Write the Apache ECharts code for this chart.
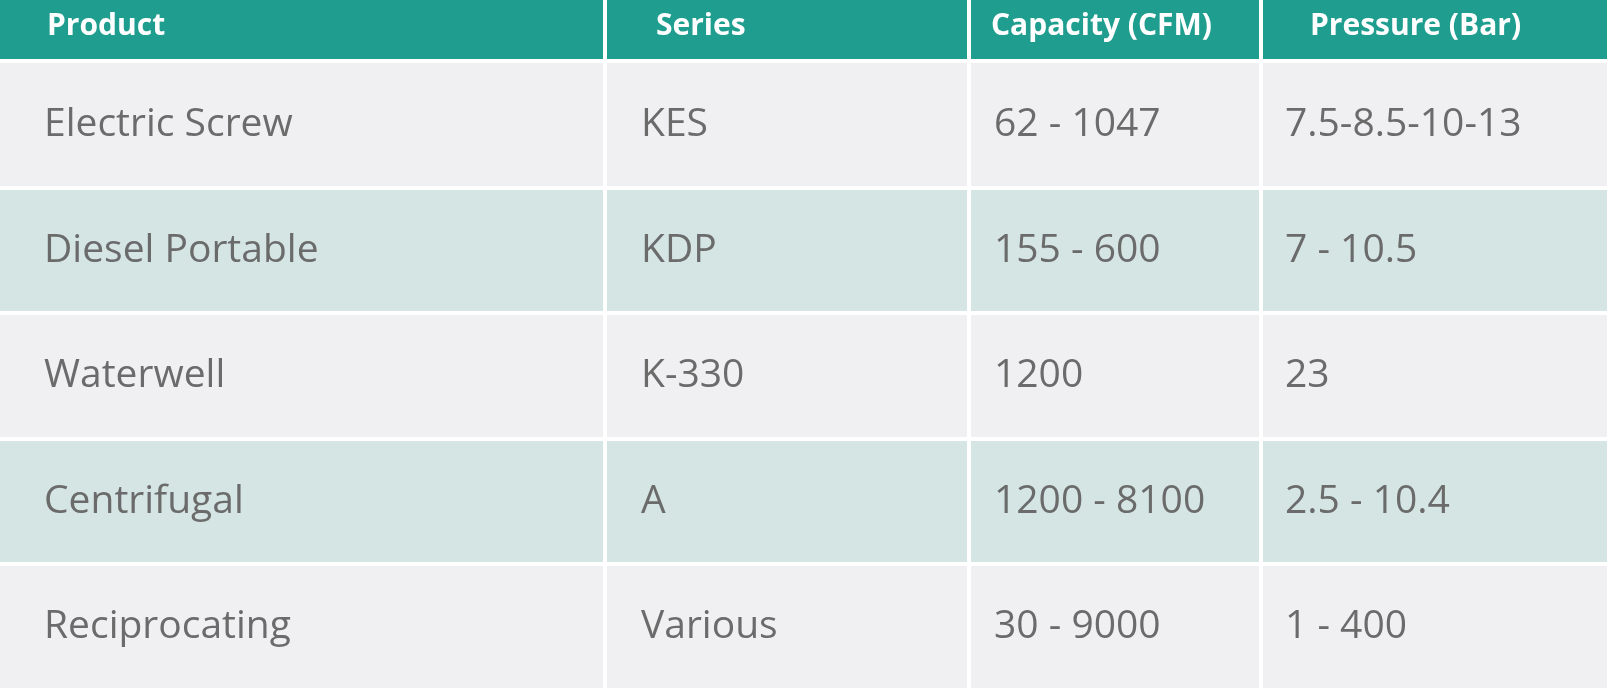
<!DOCTYPE html>
<html>
<head>
<meta charset="utf-8">
<script src="https://cdn.jsdelivr.net/npm/echarts@6/dist/echarts.min.js"></script>
<style>html,body{margin:0;padding:0;background:#fff}#main{width:1607px;height:690px}</style>
</head>
<body>
<div id="main"></div>
<script>
// 表格数据
var headers = ['Product', 'Series', 'Capacity (CFM)', 'Pressure (Bar)'];
var products = ['Electric Screw', 'Diesel Portable', 'Waterwell', 'Centrifugal', 'Reciprocating'];
var series = ['KES', 'KDP', 'K-330', 'A', 'Various'];
var capacity = ['62 - 1047', '155 - 600', '1200', '1200 - 8100', '30 - 9000'];
var pressure = ['7.5-8.5-10-13', '7 - 10.5', '23', '2.5 - 10.4', '1 - 400'];

// 布局
var colEdges = [0, 605, 969, 1261, 1607];
var rowEdges = [0, 61, 188, 313, 439, 564, 690];
var headPad = [47, 51, 22, 49];
var bodyPad = [44, 36, 25, 24];

var cells = [];
headers.forEach(function(h, c) { cells.push([c, 0, h]); });
var cols = [products, series, capacity, pressure];
for (var r = 0; r < products.length; r++) {
	for (var c = 0; c < cols.length; c++) {
		cells.push([c, r + 1, cols[c][r]]);
	}
}

var myChart = echarts.init(document.getElementById('main'));
myChart.setOption({
	animation: false,
	grid: { left: 0, right: 0, top: 0, bottom: 0 },
	xAxis: { type: 'value', min: 0, max: 1607, show: false },
	yAxis: { type: 'value', min: 0, max: 690, inverse: true, show: false },
	series: [{
		type: 'custom',
		data: cells,
		renderItem: function(params, api) {
			var c = api.value(0), r = api.value(1);
			var p0 = api.coord([colEdges[c], rowEdges[r]]);
			var p1 = api.coord([colEdges[c + 1], rowEdges[r + 1]]);
			var head = r === 0;
			var fill = head ? '#1f9e8f' : (r % 2 === 1 ? '#f0f0f2' : '#d4e5e3');
			var g = 2;
			return {
				type: 'group',
				children: [{
					type: 'rect',
					shape: { x: p0[0] + (c > 0 ? g : 0), y: p0[1] + (r > 0 ? g : 0), width: p1[0] - p0[0] - (c > 0 ? g : 0) - (c < 3 ? g : 0), height: p1[1] - p0[1] - (r > 0 ? g : 0) - g },
					style: { fill: fill }
				}, {
					type: 'text',
					x: p0[0] + (head ? headPad[c] : bodyPad[c]),
					y: head ? p0[1] + 26 : (p0[1] + p1[1]) / 2,
					style: {
						text: api.value(2),
						fill: head ? '#ffffff' : '#6b6b6b',
						font: (head ? 'bold 30px' : '39px') + ' "Open Sans", sans-serif',
						verticalAlign: 'middle',
						align: 'left'
					}
				}]
			};
		}
	}]
});
</script>
</body>
</html>
